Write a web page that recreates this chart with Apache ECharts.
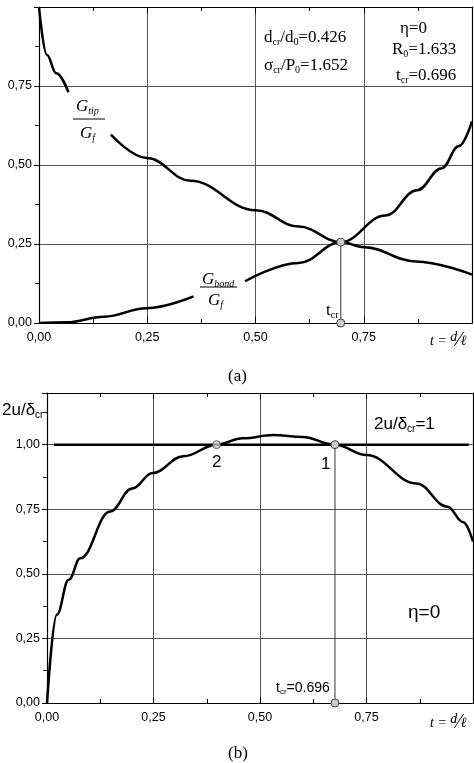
<!DOCTYPE html>
<html><head><meta charset="utf-8">
<script src="https://cdn.jsdelivr.net/npm/echarts@6/dist/echarts.min.js"></script>
<style>html,body{margin:0;padding:0;background:#fff}#c{width:474px;height:763px}</style>
</head><body><div id="c"></div>
<script>
// (a) energy release rates vs t
const tipT = [0, 0.018, 0.04, 0.068, null, 0.166, 0.249, 0.35, 0.5, 0.6, 0.697, 0.751, 0.87, 1.0]
const tipV = [1.0, 0.849, 0.79, 0.73, null, 0.596, 0.522, 0.45, 0.357, 0.305, 0.256, 0.24, 0.195, 0.153]
const bondT = [0, 0.064, 0.15, 0.249, 0.357, null, 0.476, 0.6, 0.697, 0.8, 0.873, 0.93, 0.97, 1.0]
const bondV = [0, 0.002, 0.02, 0.047, 0.084, null, 0.132, 0.19, 0.256, 0.34, 0.42, 0.49, 0.56, 0.638]
const crit = [0.697, 0.256]
// (b) opening displacement vs t
const uT = [0, 0.023, 0.051, 0.078, 0.148, 0.2, 0.248, 0.32, 0.398, 0.46, 0.531, 0.6, 0.676, 0.75, 0.867, 0.94, 0.977, 1.0]
const uV = [0, 0.342, 0.477, 0.56, 0.741, 0.83, 0.89, 0.955, 1.0, 1.025, 1.037, 1.03, 1.0, 0.96, 0.85, 0.76, 0.70, 0.625]
const levelT = [0.016, 0.99]
const pt2 = [0.398, 1.0]
const pt1 = [0.676, 1.0]

const pairs = (xs, ys) => xs.map((x, i) => x === null ? [null, null] : [x, ys[i]])
const fmt = v => v.toFixed(2).replace('.', ',')
const sans = 'Liberation Sans'
const serif = 'Liberation Serif'

function xAx(idx, pos) {
  return {
    type: 'value', gridIndex: idx, position: pos, min: 0, max: 1, interval: 0.25,
    axisLine: { onZero: false, lineStyle: { color: '#000', width: 1.2 } },
    axisTick: { show: true, inside: true, length: 6, lineStyle: { color: '#000' } },
    minorTick: { show: true, splitNumber: 2, length: 4, lineStyle: { color: '#000' } },
    axisLabel: pos === 'bottom' ? { show: true, formatter: fmt, showMaxLabel: false, color: '#000', fontFamily: sans, fontSize: 12.5, margin: 8 } : { show: false },
    splitLine: { show: pos === 'bottom', lineStyle: { color: '#555', width: 1 } }
  }
}
function yAx(idx, pos, max) {
  return {
    type: 'value', gridIndex: idx, position: pos, min: 0, max: max, interval: 0.25,
    axisLine: { onZero: false, lineStyle: { color: '#000', width: 1.2 } },
    axisTick: { show: pos === 'left', inside: false, length: 5, lineStyle: { color: '#000' } },
    minorTick: { show: pos === 'left', splitNumber: 2, length: 4, lineStyle: { color: '#000' } },
    axisLabel: pos === 'left' ? { show: true, formatter: v => v > 1.0001 ? '' : fmt(v), showMaxLabel: false, color: '#000', fontFamily: sans, fontSize: 12.5, margin: 7 } : { show: false },
    splitLine: { show: pos === 'left', lineStyle: { color: '#555', width: 1 } }
  }
}
const circ = { symbol: 'circle', symbolSize: 8, itemStyle: { color: '#ccc', borderColor: '#444', borderWidth: 1 } }
const curve = { type: 'line', smooth: 0.4, smoothMonotone: 'x', showSymbol: false, connectNulls: false, lineStyle: { color: '#000', width: 2.5 } }

const chart = echarts.init(document.getElementById('c'))
const sub = { fontSize: 10, fontFamily: serif, padding: [9, 0, 0, 0], color: '#000' }
const txt = (x, y, text, rich, extra) => ({ type: 'text', left: x, top: y, z: 50, style: Object.assign({ text: text, rich: rich, fill: '#000' }, extra || {}) })
const serRich = { a: { fontSize: 17, fontFamily: serif, color: '#000' }, s: sub, i: { fontSize: 17, fontFamily: serif, fontStyle: 'italic', color: '#000' }, si: Object.assign({}, sub, { fontStyle: 'italic' }) }
const sansRich = { a: { fontSize: 17, fontFamily: sans, color: '#000' }, s: { fontSize: 10, fontFamily: sans, padding: [9, 0, 0, 0], color: '#000' } }
const tdl = { i: { fontSize: 14, fontFamily: serif, fontStyle: 'italic' }, b: { fontSize: 14, fontFamily: serif, fontStyle: 'italic', padding: [0, 0, 8, 0] }, c: { fontSize: 20, fontFamily: serif } }

chart.setOption({
  animation: false,
  grid: [
    { left: 39, top: 7, width: 433, height: 316 },
    { left: 47, top: 393, width: 426, height: 310 }
  ],
  xAxis: [xAx(0, 'bottom'), xAx(0, 'top'), xAx(1, 'bottom'), xAx(1, 'top')],
  yAxis: [yAx(0, 'left', 1.0), yAx(0, 'right', 1.0), yAx(1, 'left', 1.2), yAx(1, 'right', 1.2)],
  series: [
    Object.assign({ xAxisIndex: 0, yAxisIndex: 0, data: pairs(tipT, tipV) }, curve),
    Object.assign({ xAxisIndex: 0, yAxisIndex: 0, data: pairs(bondT, bondV) }, curve),
    Object.assign({ type: 'line', xAxisIndex: 0, yAxisIndex: 0, data: [[crit[0], crit[1]], [crit[0], 0]], lineStyle: { color: '#333', width: 1 }, z: 5 }, circ),
    Object.assign({ xAxisIndex: 2, yAxisIndex: 2, data: pairs(uT, uV) }, curve),
    { type: 'line', xAxisIndex: 2, yAxisIndex: 2, data: [[levelT[0], 1], [levelT[1], 1]], showSymbol: false, lineStyle: { color: '#000', width: 2.5 } },
    Object.assign({ type: 'line', xAxisIndex: 2, yAxisIndex: 2, data: [pt1, [pt1[0], 0]], lineStyle: { color: '#333', width: 1 }, z: 5 }, circ),
    Object.assign({ type: 'scatter', xAxisIndex: 2, yAxisIndex: 2, data: [pt2], z: 5 }, circ)
  ],
  graphic: [
    // chart (a) annotations
    txt(264, 28, '{a|d}{s|cr}{a|/d}{s|0}{a|=0.426}', serRich, { backgroundColor: '#fff' }),
    txt(264, 56, '{a|σ}{s|cr}{a|/P}{s|0}{a|=1.652}', serRich, { backgroundColor: '#fff' }),
    txt(400, 20, '{a|η=0}', serRich, { backgroundColor: '#fff' }),
    txt(392, 40, '{a|R}{s|0}{a|=1.633}', serRich, { backgroundColor: '#fff' }),
    txt(396, 66, '{a|t}{s|cr}{a|=0.696}', serRich, { backgroundColor: '#fff' }),
    txt(76, 98, '{i|G}{si|tip}', serRich),
    { type: 'line', z: 50, shape: { x1: 73, y1: 119, x2: 105, y2: 119 }, style: { stroke: '#000', lineWidth: 1 } },
    txt(80, 125, '{i|G}{si|f}', serRich),
    txt(202, 271, '{i|G}{si|bond}', serRich),
    { type: 'line', z: 50, shape: { x1: 200, y1: 287, x2: 237, y2: 287 }, style: { stroke: '#000', lineWidth: 1 } },
    txt(208, 292, '{i|G}{si|f}', serRich),
    txt(326, 302, '{a|t}{s|cr}', serRich),
    txt(430, 330, '{i|t = }{b|d}{c|⁄}{i|ℓ}', tdl),
    txt(228, 368, '{a|(a)}', serRich),
    // chart (b) annotations
    txt(2, 402, '{a|2u/δ}{s|cr}', sansRich),
    txt(374, 416, '{a|2u/δ}{s|cr}{a|=1}', sansRich),
    txt(212, 454, '{a|2}', sansRich),
    txt(321, 456, '{a|1}', sansRich),
    txt(408, 603, '{a|η=0}', { a: { fontSize: 19, fontFamily: sans } }),
    txt(276, 680, '{a|t}{s|cr}{a|=0.696}', { a: { fontSize: 14, fontFamily: sans }, s: { fontSize: 8, fontFamily: sans, padding: [8, 0, 0, 0] } }, { backgroundColor: '#fff' }),
    txt(430, 712, '{i|t = }{b|d}{c|⁄}{i|ℓ}', tdl),
    txt(228, 745, '{a|(b)}', serRich)
  ]
})
</script></body></html>
